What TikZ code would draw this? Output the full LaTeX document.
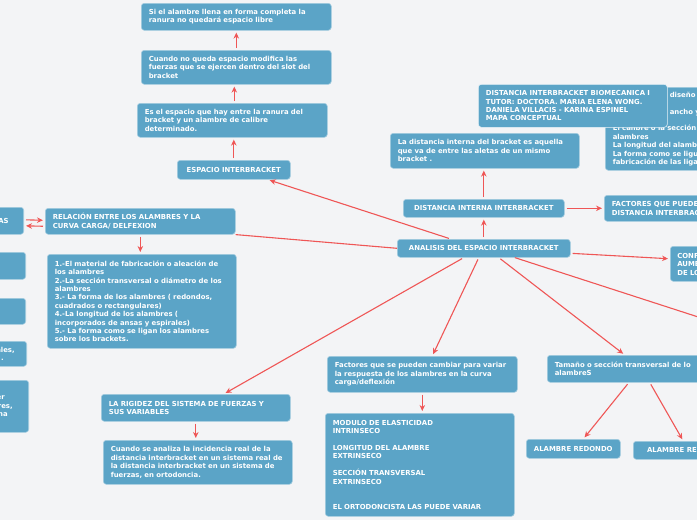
\documentclass[tikz,border=0pt]{standalone}
\usepackage{fontspec}
\setmainfont{DejaVu Sans}
\usepackage{tikz}
\usetikzlibrary{arrows.meta}
\definecolor{cbg}{HTML}{F3F4F6}
\definecolor{cblue}{HTML}{5BA4C7}
\definecolor{cred}{HTML}{EF5656}
\tikzset{
  cbox/.style={draw=cblue!55!white, fill=cblue, rounded corners=3pt, text=white,
               font=\fontsize{6.9}{8.4}\selectfont\bfseries, align=left,
               inner xsep=7.5pt, inner ysep=1pt, line width=0.6pt, anchor=north west},
  clabel/.style={cbox, align=center},
  carrow/.style={-{Stealth[length=6pt, width=5.5pt]}, cred, line width=1.1pt,
                 shorten <=2pt, shorten >=2pt},
  cline/.style={cred, line width=1.1pt},
}

\begin{document}
\begin{tikzpicture}[x=1pt, y=-1pt]

  \useasboundingbox (0,0) rectangle (697,520);
  \fill[cbg] (0,0) rectangle (697,520);
  \clip (0,0) rectangle (697,520);

  %% upper chain
  \node[cbox, text width=175pt, minimum height=27pt] (b1) at (141,3)
    {Si el alambre llena en forma completa la\\ ranura no quedará espacio libre};
  \node[cbox, text width=175pt, minimum height=34pt] (b2) at (141,50)
    {Cuando no queda espacio modifica las\\ fuerzas que se ejercen dentro del slot del\\ bracket};
  \node[cbox, text width=175pt, minimum height=34pt] (b3) at (137,103)
    {Es el espacio que hay entre la ranura del\\ bracket y un alambre de calibre\\ determinado.};
  \node[clabel, minimum width=113pt, minimum height=19pt] (esp) at (177,160) {ESPACIO INTERBRACKET};

  %% right side, partly hidden by the title
  \node[cbox, text width=160pt, minimum height=83pt] (rbox) at (605,87)
    {\hspace*{57pt}diseño\\[9pt] \hspace*{57pt}ancho y\\[8pt] El calibre o la sección de los\\ alambres\\
     La longitud del alambre\\ La forma como se liguen\\ fabricación de las ligaduras};
  \node[cbox, draw=white!85!cblue, text width=174pt, minimum height=43pt] (title) at (478,84)
    {DISTANCIA INTERBRACKET BIOMECANICA I\\ TUTOR: DOCTORA. MARIA ELENA WONG.\\
     DANIELA VILLACIS - KARINA ESPINEL\\ MAPA CONCEPTUAL};

  \node[cbox, text width=174pt, minimum height=35pt] (dist) at (390,133)
    {La distancia interna del bracket es aquella\\ que va de entre las aletas de un mismo\\ bracket .};
  \node[clabel, minimum width=161pt, minimum height=18pt] (din) at (403,199) {DISTANCIA INTERNA INTERBRACKET};
  \node[cbox, text width=160pt, minimum height=26pt] (fact) at (604,195)
    {FACTORES QUE PUEDEN MODIFICAR LA\\ DISTANCIA INTERBRACKET};
  \node[clabel, minimum width=173pt, minimum height=18pt] (anal) at (397,239) {ANALISIS DEL ESPACIO INTERBRACKET};
  \node[cbox, inner xsep=7pt, text width=100pt, minimum height=35pt] (conf) at (670,246)
    {CONFIGURACIÓN Y\\ AUMENTO\\ DE LOS ALAMBRES};

  %% left column, cut by the border
  \node[cbox, anchor=north east, align=right, inner xsep=15pt, text width=170pt, minimum height=27pt] (l1) at (24,207) {AS};
  \node[cbox, anchor=north east, text width=185pt, minimum height=27pt] (l2) at (26,252) {};
  \node[cbox, anchor=north east, text width=185pt, minimum height=26pt] (l3) at (26,298) {};
  \node[cbox, anchor=north east, align=right, inner xsep=12pt, text width=176pt, minimum height=25pt] (l4) at (27,341)
    {ales,\\ .\kern11pt};
  \node[cbox, anchor=north east, align=right, inner xsep=16pt, text width=170pt, minimum height=52pt] (l5) at (29,380)
    {er\kern8pt\\ res,\\ na\kern5pt};

  \node[cbox, text width=175pt, minimum height=26pt] (rel) at (45,208)
    {RELACIÓN ENTRE LOS ALAMBRES Y LA\\ CURVA CARGA/ DELFEXION};
  \node[cbox, text width=174pt, minimum height=94pt] (list) at (47,254)
    {1.-El material de fabricación o aleación de\\ los alambres\\ 2.-La sección transversal o diámetro de los\\ alambres\\
     3.- La forma de los alambres ( redondos,\\ cuadrados o rectangulares)\\ 4.-La longitud de los alambres (\\
     incorporados de ansas y espirales)\\ 5.- La forma como se ligan los alambres\\ sobre los brackets.};

  %% lower part
  \node[cbox, text width=174pt, minimum height=27pt] (rig) at (101,394)
    {LA RIGIDEZ DEL SISTEMA DE FUERZAS Y\\ SUS VARIABLES};
  \node[cbox, text width=174pt, minimum height=44pt] (cuando) at (103,440)
    {Cuando se analiza la incidencia real de la\\ distancia interbracket en un sistema real de\\
     la distancia interbracket en un sistema de\\ fuerzas, en ortodoncia.};
  \node[cbox, text width=175pt, minimum height=36pt] (facv) at (327,356)
    {Factores que se pueden cambiar para variar\\ la respuesta de los alambres en la curva\\ carga/deflexión};
  \node[cbox, text width=174pt, minimum height=103pt] (mod) at (325,413)
    {MODULO DE ELASTICIDAD\\ INTRINSECO\\[8.4pt] LONGITUD DEL ALAMBRE\\ EXTRINSECO\\[8.4pt]
     SECCIÓN TRANSVERSAL\\ EXTRINSECO\\[16.8pt] EL ORTODONCISTA LAS PUEDE VARIAR};
  \node[cbox, text width=140pt, minimum height=27pt] (tam) at (547,355)
    {Tamaño o sección transversal de lo\\ alambreS};
  \node[clabel, minimum width=94pt, minimum height=19pt] (red) at (526,439) {ALAMBRE REDONDO};
  \node[clabel, minimum width=124pt, minimum height=18pt] (rect) at (633,441) {ALAMBRE RECTANGULAR};

  \coordinate (offr) at (760,337);

  %% connectors
  \draw[carrow] (esp.north) -- (esp.north |- b3.south);
  \draw[carrow] ([xshift=2pt]b3.north) -- ([xshift=2pt]b3.north |- b2.south);
  \draw[carrow] (b2.north) -- (b2.north |- b1.south);
  \draw[carrow] ([xshift=-33pt]anal.north) -- ([xshift=34pt]esp.south);
  \draw[cline] (anal.west) -- (rel.south east);
  \draw[carrow] (anal.north) -- (din.south);
  \draw[carrow] (din.north) -- (din.north |- dist.south);
  \draw[carrow] (din.east) -- (fact.west);
  \draw[carrow] ([yshift=-5pt]anal.east) -- ([yshift=5pt]conf.west);
  \draw[cline] ([xshift=31pt]anal.south) -- (offr);
  \draw[carrow] ([xshift=-20pt]anal.south) -- ([xshift=28pt]rig.north);
  \draw[carrow] ([xshift=-5pt]anal.south) -- ([xshift=10pt]facv.north);
  \draw[carrow] ([xshift=15pt]anal.south) -- (tam.north);
  \draw[carrow] (rel.south) -- (rel.south |- list.north);
  \draw[carrow] ([yshift=1pt]l1.east) -- ([yshift=1pt]rel.west);
  \draw[carrow] ([yshift=-5pt]rel.west) -- ([yshift=-5pt]l1.east);
  \draw[carrow] (rig.south) -- (rig.south |- cuando.north);
  \draw[carrow] (facv.south) -- (facv.south |- mod.north);
  \draw[carrow] ([xshift=4pt]tam.south) -- ([xshift=10pt]red.north);
  \draw[carrow] ([xshift=25pt]tam.south) -- ([xshift=-12pt]rect.north);

\end{tikzpicture}
\end{document}
